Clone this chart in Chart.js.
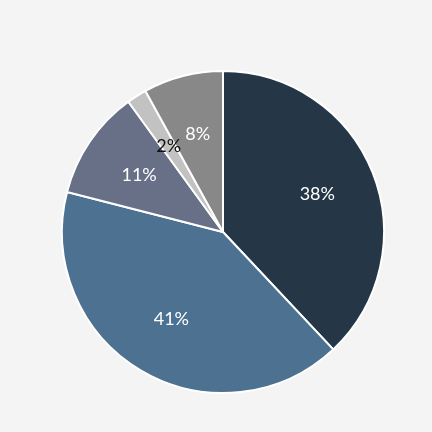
<!DOCTYPE html>
<html>
<head>
<meta charset="utf-8">
<script src="https://cdn.jsdelivr.net/npm/chart.js@4"></script>
<style>
  html, body { margin: 0; padding: 0; background: #f4f4f4; }
  #wrap { width: 432px; height: 432px; }
</style>
</head>
<body>
<div id="wrap"><canvas id="pie"></canvas></div>
<script>
const labels = ['A', 'B', 'C', 'D', 'E'];
const values = [38, 41, 11, 2, 8];
const colors = ['#253746', '#4d7190', '#687088', '#c2c2c2', '#888888'];
const textColors = ['#ffffff', '#ffffff', '#ffffff', '#111111', '#ffffff'];

// draws the percentage inside each slice
const sliceLabels = {
  id: 'sliceLabels',
  afterDatasetsDraw(chart) {
    const ctx = chart.ctx;
    const meta = chart.getDatasetMeta(0);
    const total = values.reduce((a, b) => a + b, 0);
    ctx.save();
    ctx.font = '18px Lato';
    ctx.textAlign = 'center';
    ctx.textBaseline = 'middle';
    meta.data.forEach((arc, i) => {
      const mid = (arc.startAngle + arc.endAngle) / 2;
      const r = arc.outerRadius * 0.63;
      ctx.fillStyle = textColors[i];
      ctx.fillText(Math.round(values[i] / total * 100) + '%',
        arc.x + Math.cos(mid) * r, arc.y + Math.sin(mid) * r);
    });
    ctx.restore();
  }
};

new Chart(document.querySelector('#pie'), {
  type: 'pie',
  data: {
    labels: labels,
    datasets: [{
      data: values,
      backgroundColor: colors,
      borderColor: '#ffffff',
      borderWidth: 2
    }]
  },
  options: {
    responsive: true,
    maintainAspectRatio: false,
    animation: false,
    layout: { padding: { left: 61, right: 47, top: 70, bottom: 38 } },
    plugins: { legend: { display: false }, tooltip: { enabled: false } }
  },
  plugins: [sliceLabels]
});
</script>
</body>
</html>
